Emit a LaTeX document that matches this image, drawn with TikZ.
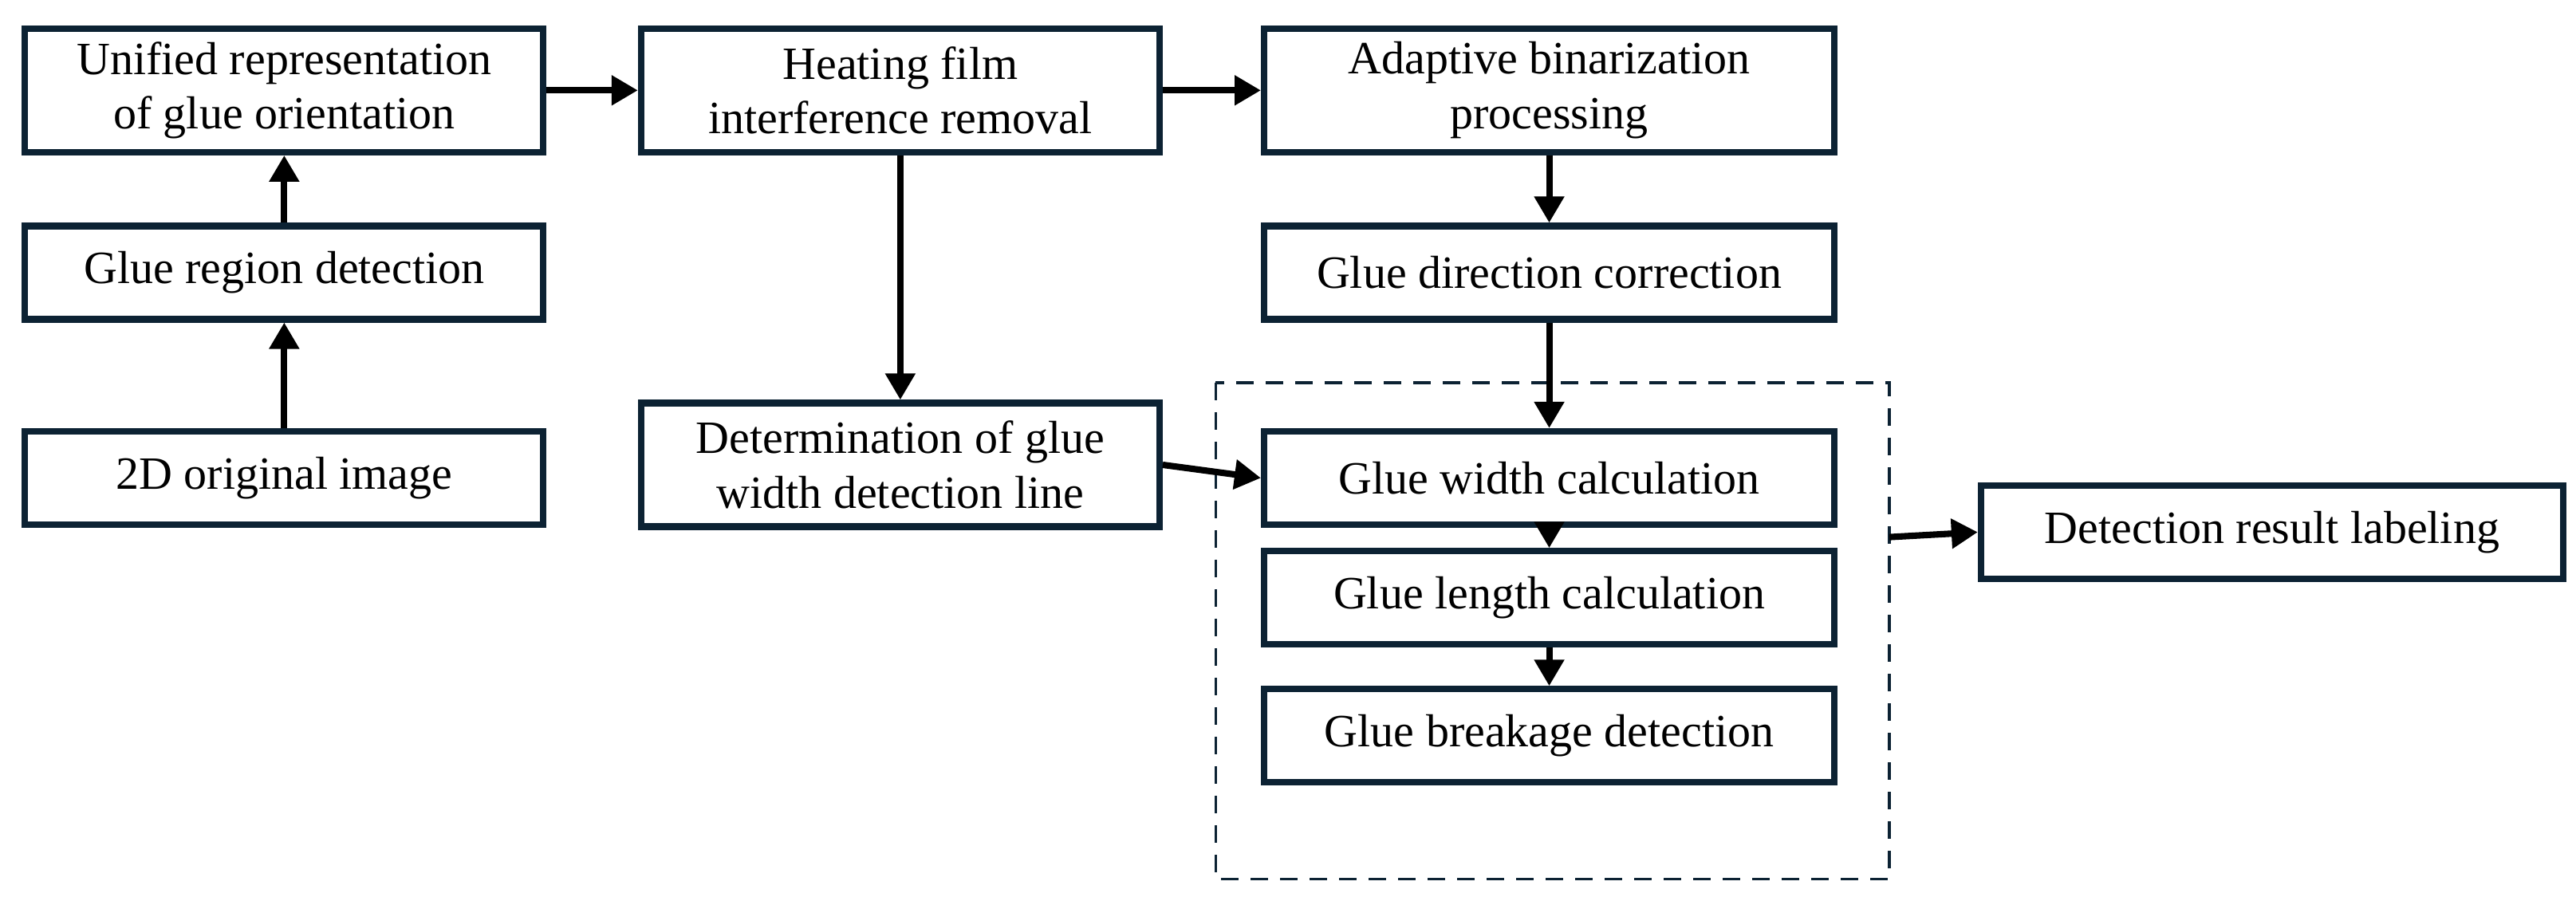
\documentclass[tikz,border=0pt]{standalone}
\usepackage{fontspec}
\setmainfont{Liberation Serif}
\usetikzlibrary{arrows.meta}
\usetikzlibrary{positioning}
\definecolor{boxline}{HTML}{0C2233}

\begin{document}
\begin{tikzpicture}[x=0.0206cm,y=-0.0206cm,
    box/.style={draw=boxline,line width=2.3pt,align=center,inner sep=0pt,font=\fontsize{16.5}{19.5}\selectfont},
    arr/.style={line width=2.3pt,-{Triangle[length=0.33cm,width=0.36cm]}}]
      \useasboundingbox (0,0) rectangle (1568,546);

      \node[box,minimum width=6.5cm,minimum height=1.55cm] (unified) at (173,55) {Unified representation\\of glue orientation};
      \node[box,minimum width=6.5cm,minimum height=1.17cm] (region) at (173,166) {Glue region detection};
      \node[box,minimum width=6.5cm,minimum height=1.17cm] (orig) at (173,291) {2D original image};

      \node[box,minimum width=6.5cm,minimum height=1.55cm] (heat) at (548,55) {Heating film\\interference removal};
      \node[box,minimum width=6.5cm,minimum height=1.55cm] (determ) at (548,283) {Determination of glue\\width detection line};

      \node[box,minimum width=7.15cm,minimum height=1.55cm] (adapt) at (943,55) {Adaptive binarization\\processing};
      \node[box,minimum width=7.15cm,minimum height=1.17cm] (dir) at (943,166) {Glue direction correction};
      \node[box,minimum width=7.15cm,minimum height=1.17cm] (width) at (943,291) {Glue width calculation};
      \node[box,minimum width=7.15cm,minimum height=1.17cm] (length) at (943,364) {Glue length calculation};
      \node[box,minimum width=7.15cm,minimum height=1.17cm] (break) at (943,448) {Glue breakage detection};

      \node[box,minimum width=7.3cm,minimum height=1.17cm] (result) at (1383,324) {Detection result labeling};

      \draw[boxline,dash pattern=on 2.2mm off 1.5mm,line width=0.9pt] (740,233) rectangle (1150,535);
      \coordinate (group) at (1150,327);

      \draw[arr] (orig) -- (region);
      \draw[arr] (region) -- (unified);
      \draw[arr] (unified.east) -- (heat.west);
      \draw[arr] (heat.east) -- (adapt.west);
      \draw[arr] (heat) -- (determ);
      \draw[arr] (adapt) -- (dir);
      \draw[arr] (dir) -- (width);
      \draw[arr] (determ.east) -- (width.west);
      \draw[arr] (width) -- (length);
      \draw[arr] (length) -- (break);
      \draw[arr] (group) -- (result.west);
    \end{tikzpicture}
\end{document}
